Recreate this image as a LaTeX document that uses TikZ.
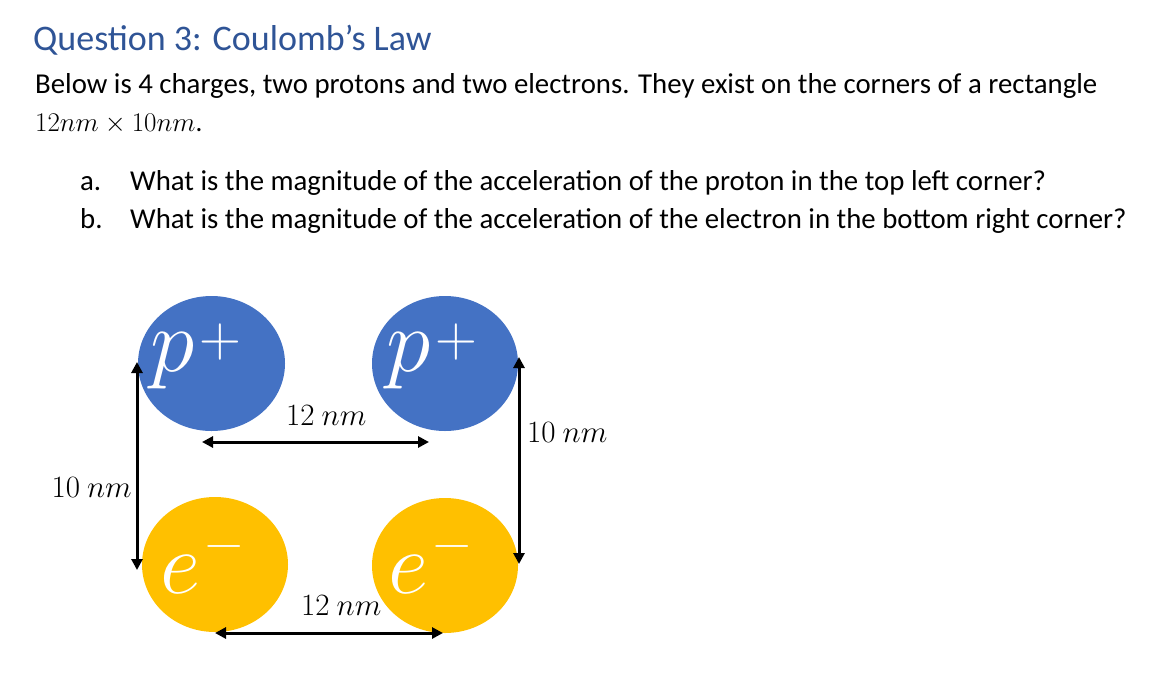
\RequirePackage{fix-cm}
\documentclass[tikz,border=0pt]{standalone}
\usepackage{fontspec}
\setmainfont{Carlito}
\newfontfamily\signfont{Latin Modern Roman}
\usetikzlibrary{shapes.geometric,arrows.meta}
\definecolor{titleblue}{HTML}{2F5496}
\definecolor{protonblue}{HTML}{4472C4}
\definecolor{electronyellow}{HTML}{FFC000}
\newcommand{\protonsym}{{\fontsize{90}{90}\selectfont$p$}\hspace{5pt}\raisebox{14.5pt}{\signfont\fontsize{58}{58}\selectfont +}}
\newcommand{\electronsym}{{\fontsize{88}{88}\selectfont$e$}\hspace{5pt}\raisebox{34pt}{\signfont\fontsize{52}{52}\selectfont −}}
\tikzset{
  body/.style={anchor=base west,inner sep=0pt,font=\fontsize{28.8}{34}\selectfont},
  charge/.style={ellipse,draw=none,inner sep=0pt},
  proton/.style={charge,fill=protonblue},
  electron/.style={charge,fill=electronyellow},
  sym/.style={anchor=base west,inner sep=0pt,text=white},
  dim/.style={line width=3pt,{Triangle[length=11pt,width=11pt]}-{Triangle[length=11pt,width=11pt]}},
  dimlabel/.style={inner sep=0pt,font=\fontsize{31}{33}\selectfont}
}
\begin{document}
\begin{tikzpicture}[x=1pt,y=-1pt]
\useasboundingbox (0,0) rectangle (1153,678);
% texts
\node[anchor=base west,inner sep=0pt,text=titleblue,font=\fontsize{36}{42}\selectfont] (title) at (33,50) {Question 3: Coulomb’s Law};
\node[body] (l1) at (35,93) {Below is 4 charges, two protons and two electrons. They exist on the corners of a rectangle};
\node[body,font=\fontsize{27}{32}\selectfont] (l2) at (35,131) {$12nm\times10nm$.};
\node[body] (qa) at (80,190) {a.};
\node[body] (qat) at (130,190) {What is the magnitude of the acceleration of the proton in the top left corner?};
\node[body] (qb) at (80,228) {b.};
\node[body] (qbt) at (130,228) {What is the magnitude of the acceleration of the electron in the bottom right corner?};
% charges
\node[proton,minimum width=147pt,minimum height=135pt] (p1) at (211.5,363.5) {};
\node[proton,minimum width=146pt,minimum height=135pt] (p2) at (445,363.5) {};
\node[electron,minimum width=146pt,minimum height=135pt] (e1) at (215,564.5) {};
\node[electron,minimum width=146pt,minimum height=135pt] (e2) at (445,565.5) {};
\node[sym] (p1l) at (150,371) {\protonsym};
\node[sym] (p2l) at (386,371) {\protonsym};
\node[sym] (e1l) at (160,593) {\electronsym};
\node[sym] (e2l) at (388,593) {\electronsym};
% dimension ends
\coordinate (lt) at (137,362);
\coordinate (lb) at (137,570);
\coordinate (rt) at (519,357);
\coordinate (rb) at (519,564);
\coordinate (tl) at (202,442);
\coordinate (tr) at (429,442);
\coordinate (bl) at (215,633);
\coordinate (br) at (443,633);
\draw[dim] (lt) -- (lb);
\draw[dim] (rt) -- (rb);
\draw[dim] (tl) -- (tr);
\draw[dim] (bl) -- (br);
\node[dimlabel,anchor=base west] (d1) at (286,425) {$12\ nm$};
\node[dimlabel,anchor=base west] (d2) at (301,615) {$12\ nm$};
\node[dimlabel,anchor=base east] (d3) at (132,497) {$10\ nm$};
\node[dimlabel,anchor=base west] (d4) at (527,442) {$10\ nm$};
\end{tikzpicture}
\end{document}
